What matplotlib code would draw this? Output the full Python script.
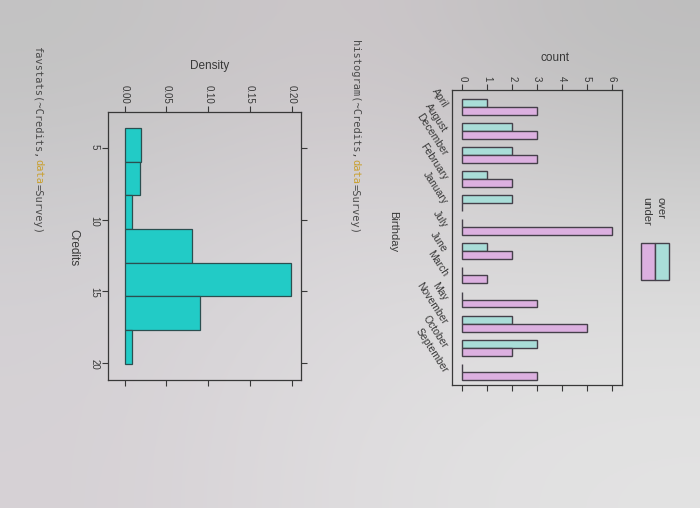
import matplotlib
matplotlib.use("Agg")
import matplotlib.pyplot as plt
import matplotlib.colors as mcolors
import numpy as np
from matplotlib.patches import Rectangle
from matplotlib.transforms import offset_copy

plt.rcParams.update({"font.family": "Liberation Sans"})

INK = "#383838"
EDGE = "#45404a"
CYAN = "#a9ddd8"
PINK = "#dcb0e0"
TEAL = "#22cbc6"

# bargraph(~Birthday, groups=..., data=Survey)
months = ["April", "August", "December", "February", "January", "July",
          "June", "March", "May", "November", "October", "September"]
over = [1, 2, 2, 1, 2, 0, 1, 0, 0, 2, 3, 0]
under = [3, 3, 3, 2, 0, 6, 2, 1, 3, 5, 2, 3]
count_ticks = [0, 1, 2, 3, 4, 5, 6]

# histogram(~Credits, data=Survey)
credit_edges = [3.6, 5.95, 8.3, 10.65, 13.0, 15.35, 17.7, 20.05]
density = [0.019, 0.018, 0.009, 0.081, 0.199, 0.090, 0.009]
credit_ticks = [5, 10, 15, 20]
density_ticks = [0.00, 0.05, 0.10, 0.15, 0.20]

W, H = 700, 508


def fx(px):
    return px / W


def fy(py):
    return 1 - py / H


fig = plt.figure(figsize=(7.0, 5.08), dpi=100)

# photographed screen: soft uneven grey
shade = [["#c2c2c2", "#cfc8cc", "#bdbdbd"],
         ["#d2d0d3", "#dcd9dc", "#d9d9d9"],
         ["#d6d1d5", "#dfdddf", "#e3e3e3"]]
grid = np.array([[mcolors.to_rgb(c) for c in row] for row in shade])
bg = fig.add_axes([0, 0, 1, 1], zorder=0)
bg.imshow(grid, extent=[0, 1, 0, 1], aspect="auto", interpolation="bicubic")
bg.axis("off")

# ---- bar chart (screen turned 90 degrees) ----
ax1 = fig.add_axes([fx(452), fy(385), 170 / W, 295 / H], zorder=2)
ax1.set_facecolor("none")
pos = np.arange(len(months))
ax1.barh(pos - 0.165, over, height=0.33, color=CYAN, edgecolor=EDGE, lw=1.0)
ax1.barh(pos + 0.165, under, height=0.33, color=PINK, edgecolor=EDGE, lw=1.0)
ax1.set_xlim(-0.42, 6.42)
ax1.set_ylim(11.55, -0.7)
ax1.set_xticks(count_ticks)
ax1.tick_params(axis="x", top=True, bottom=True, labeltop=True,
                labelbottom=False, direction="out", length=4, width=0.8,
                labelsize=7, labelrotation=-90, colors=INK, pad=2)
ax1.set_yticks(pos, months)
ax1.tick_params(axis="y", length=0, pad=5, labelsize=7.5, colors=INK)
plt.setp(ax1.get_yticklabels(), rotation=-57, rotation_mode="anchor",
         ha="right", va="center")
for s in ax1.spines.values():
    s.set_color(INK)
    s.set_linewidth(0.9)

fig.text(fx(555), fy(58), "count", ha="center", va="center",
         fontsize=8.5, color=INK)
fig.text(fx(393), fy(232), "Birthday", rotation=-90, ha="center",
         va="center", fontsize=8, color=INK)

# legend
fig.text(fx(660), fy(197), "over", rotation=-90, ha="center", va="top",
         fontsize=8, color=INK)
fig.text(fx(646), fy(197), "under", rotation=-90, ha="center", va="top",
         fontsize=8, color=INK)
fig.add_artist(Rectangle((fx(641), fy(280)), 14 / W, 37 / H,
                         transform=fig.transFigure, facecolor=PINK,
                         edgecolor=EDGE, lw=1.0, zorder=3))
fig.add_artist(Rectangle((fx(655), fy(280)), 14 / W, 37 / H,
                         transform=fig.transFigure, facecolor=CYAN,
                         edgecolor=EDGE, lw=1.0, zorder=3))

# ---- histogram ----
ax2 = fig.add_axes([fx(108), fy(380), 193 / W, 268 / H], zorder=2)
ax2.set_facecolor("none")
edges = np.array(credit_edges)
widths = np.diff(edges)
ax2.barh(edges[:-1] + widths / 2, density, height=widths, color=TEAL,
         edgecolor="#2b4f50", lw=0.9)
ax2.set_xlim(-0.02, 0.211)
ax2.set_ylim(21.19, 2.49)
ax2.set_xticks(density_ticks, [f"{d:.2f}" for d in density_ticks])
ax2.tick_params(axis="x", top=True, bottom=True, labeltop=True,
                labelbottom=False, direction="out", length=4, width=0.8,
                labelsize=7, labelrotation=-90, colors=INK, pad=2)
ax2.set_yticks(credit_ticks)
ax2.tick_params(axis="y", left=True, right=True, labelleft=True,
                labelright=False, direction="out", length=4, width=0.8,
                labelsize=7, labelrotation=-90, colors=INK, pad=2)
for s in ax2.spines.values():
    s.set_color(INK)
    s.set_linewidth(0.9)

fig.text(fx(210), fy(66), "Density", ha="center", va="center",
         fontsize=8.5, color=INK)
fig.text(fx(73), fy(248), "Credits", rotation=-90, ha="center",
         va="center", fontsize=8.5, color=INK)


# ---- console lines, rotated with the screen ----
def code_line(px, py, parts, size=7.5):
    off = 0.0
    for txt, col in parts:
        tr = offset_copy(fig.transFigure, fig=fig, x=0, y=-off, units="points")
        fig.text(fx(px), fy(py), txt, transform=tr, rotation=-90,
                 rotation_mode="anchor", ha="left", va="center",
                 family="DejaVu Sans Mono", fontsize=size, color=col)
        off += len(txt) * 0.602 * size


code_line(355, 40, [("histogram(~Credits,", "#4a4a4a"), ("data", "#c9a030"),
                    ("=Survey)", "#4a4a4a")])
code_line(38, 46, [("favstats(~Credits,", "#4a4a4a"), ("data", "#c9a030"),
                   ("=Survey)", "#4a4a4a")])

fig.savefig("out.png", dpi=100)
